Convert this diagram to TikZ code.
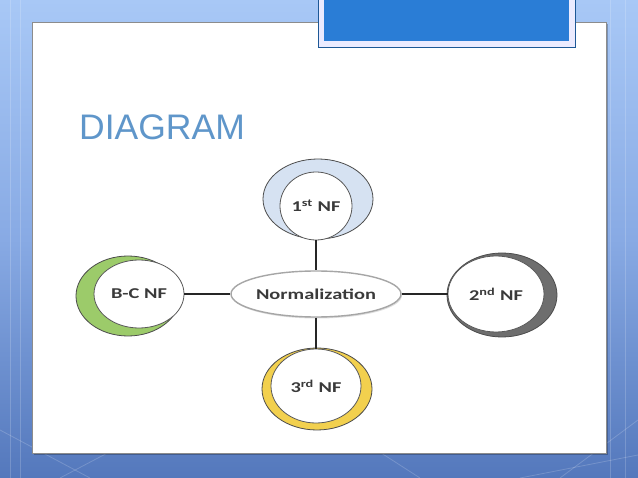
\documentclass[tikz,border=0pt]{standalone}
\usepackage{fontspec}
\usepackage{graphicx}
\setmainfont{Carlito}
\newfontfamily\titlefont{Liberation Sans}
\usetikzlibrary{shapes.geometric,shadows}
\newcommand{\widetxt}[1]{\scalebox{1.36}[1]{#1}}
\definecolor{bgtop}{HTML}{A8C8F6}
\definecolor{bgmid}{HTML}{88AAE4}
\definecolor{bgbot}{HTML}{5478BC}
\definecolor{titleblue}{HTML}{5F96CA}
\definecolor{boxblue}{HTML}{2A7DD6}
\definecolor{txt}{HTML}{3A3A3A}
\definecolor{nfblue}{HTML}{D6E2F2}
\definecolor{nfgreen}{HTML}{9CCB6A}
\definecolor{nfgray}{HTML}{6E6E6E}
\definecolor{nfyellow}{HTML}{F2D04E}
\tikzset{
  outerring/.style={ellipse, draw=black!70, line width=0.8pt, inner sep=0pt},
  innerdisc/.style={ellipse, draw=black!65, line width=0.8pt, fill=white, inner sep=0pt,
     font=\bfseries\fontsize{15}{17}\selectfont, text=txt},
  hub/.style={ellipse, draw=black!35, line width=1.4pt, fill=white, inner sep=0pt,
     minimum width=170pt, minimum height=46pt, font=\bfseries\fontsize{15}{17}\selectfont, text=txt,
     drop shadow={shadow xshift=1pt, shadow yshift=-1.5pt, opacity=0.25}},
  link/.style={draw=black!85, line width=1.2pt}
}
\begin{document}
\begin{tikzpicture}[x=1pt,y=-1pt]
\useasboundingbox (0,0) rectangle (638,478);
% background
\shade[top color=bgtop, bottom color=bgbot, middle color=bgmid] (0,0) rectangle (638,478);
\begin{scope}[white, opacity=0.18, line width=0.8pt]
  \draw (0,430) -- (90,478);
  \draw (60,478) -- (170,420);
  \draw (330,420) -- (420,478);
  \draw (560,478) -- (638,420);
  \draw (520,478) -- (638,455);
  \draw (10,0) -- (10,478);
  \draw (20,0) -- (20,478);
  \draw (610,0) -- (610,478);
  \draw (625,0) -- (625,478);
\end{scope}
% panel
\fill[black, opacity=0.25] (33.5,24) rectangle (608,455);
\draw[fill=white, draw=black!45, line width=0.6pt] (32,22) rectangle (606,453);
% top blue box
\draw[fill=white!92!blue, draw=boxblue!70!black, line width=0.7pt] (318,-2) rectangle (575,47);
\fill[boxblue] (324,-2) rectangle (569,41);
% title
\node[anchor=base west, inner sep=0pt, text=titleblue, font=\titlefont\fontsize{35.5}{40}\selectfont] (title) at (79,140) {DIAGRAM};
% hub
\node[hub] (norm) at (316,294) {\widetxt{Normalization}};
% 1st NF
\node[outerring, fill=nfblue, minimum width=110pt, minimum height=80pt] (o1) at (318,199) {};
\node[innerdisc, minimum width=72pt, minimum height=68pt] (nf1) at (316,206) {\widetxt{1\textsuperscript{st} NF}};
% B-C NF
\node[outerring, fill=nfgreen, minimum width=104pt, minimum height=80pt] (o4) at (128,296) {};
\node[innerdisc, minimum width=90pt, minimum height=68pt] (bc) at (139,294) {\widetxt{B-C NF}};
% 2nd NF
\node[outerring, fill=nfgray, minimum width=110pt, minimum height=84pt] (o2) at (502,295) {};
\node[innerdisc, minimum width=96pt, minimum height=76pt] (nf2) at (496,294) {\widetxt{2\textsuperscript{nd} NF}};
% 3rd NF
\node[outerring, fill=nfyellow, minimum width=110pt, minimum height=82pt] (o3) at (317,389) {};
\node[innerdisc, minimum width=90pt, minimum height=74pt] (nf3) at (316,386) {\widetxt{3\textsuperscript{rd} NF}};
% links
\draw[link] (nf1.south) -- (norm.north);
\draw[link] (norm.south) -- (nf3.north);
\draw[link] (bc.east) -- (norm.west);
\draw[link] (norm.east) -- (nf2.west);
\end{tikzpicture}
\end{document}
